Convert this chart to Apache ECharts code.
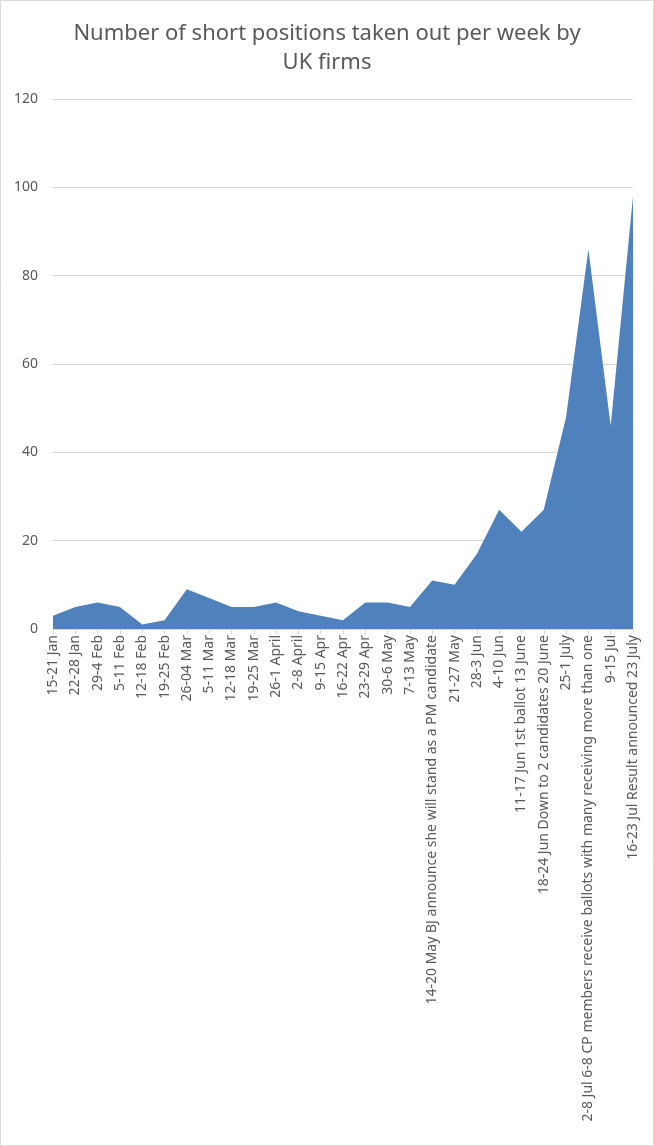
<!DOCTYPE html>
<html>
<head>
	<meta charset="utf-8">
	<title>echarts</title>
	<script type="text/javascript" src="https://cdn.jsdelivr.net/npm/echarts@6/dist/echarts.min.js"></script>
	<style>
		html, body { margin: 0; padding: 0; background: #fff; }
	</style>
</head>
<body>
	<div id="mychar" style="width: 654px;height:1146px;"></div>

	<script type="text/javascript">
		var weeks = [
			'15-21 Jan', '22-28 Jan', '29-4 Feb', '5-11 Feb', '12-18 Feb', '19-25 Feb',
			'26-04 Mar', '5-11 Mar', '12-18 Mar', '19-25 Mar', '26-1 April', '2-8 April',
			'9-15 Apr', '16-22 Apr', '23-29 Apr', '30-6 May', '7-13 May',
			'14-20 May BJ announce she will stand as a PM candidate',
			'21-27 May', '28-3 Jun', '4-10 Jun',
			'11-17 Jun 1st ballot 13 June',
			'18-24 Jun Down to 2 candidates 20 June',
			'25-1 July',
			'2-8 Jul 6-8 CP members receive ballots with many receiving more than one',
			'9-15 Jul',
			'16-23 Jul Result announced 23 July'
		];
		var shorts = [3, 5, 6, 5, 1, 2, 9, 7, 5, 5, 6, 4, 3, 2, 6, 6, 5, 11, 10, 17, 27, 22, 27, 48, 86, 46, 98];
		var yTicks = { min: 0, max: 120, interval: 20 };

		var grey = '#595959';
		var font = '"Noto Sans", "Open Sans", sans-serif';

		var mychar = echarts.init(document.getElementById("mychar"));
		var option = {
			backgroundColor: '#fff',
			animation: false,
			title: {
				text: 'Number of short positions taken out per week by\nUK firms',
				left: 'center',
				top: 14,
				textStyle: {
					fontFamily: font,
					fontSize: 22,
					fontWeight: 'normal',
					color: grey,
					lineHeight: 29
				}
			},
			graphic: [{
				type: 'rect',
				shape: { x: 0.5, y: 0.5, width: 653, height: 1145 },
				style: { fill: 'none', stroke: '#d9d9d9', lineWidth: 1 },
				silent: true
			}],
			grid: {
				left: 53,
				right: 21,
				top: 99,
				bottom: 517
			},
			xAxis: {
				type: 'category',
				data: weeks,
				boundaryGap: false,
				axisLine: { lineStyle: { color: '#d9d9d9' } },
				axisTick: { show: true, length: 5, lineStyle: { color: '#d9d9d9' } },
				axisLabel: {
					interval: 0,
					rotate: 90,
					margin: 6,
					color: grey,
					fontFamily: font,
					fontSize: 14
				}
			},
			yAxis: {
				type: 'value',
				min: yTicks.min,
				max: yTicks.max,
				interval: yTicks.interval,
				axisLine: { show: false },
				axisTick: { show: false },
				splitLine: { lineStyle: { color: '#d9d9d9' } },
				axisLabel: {
					margin: 15,
					color: grey,
					fontFamily: font,
					fontSize: 14
				}
			},
			series: [{
				name: 'Short positions',
				type: 'line',
				data: shorts,
				symbol: 'none',
				lineStyle: { width: 0 },
				areaStyle: { color: '#4f81bd', opacity: 1 }
			}]
		};
		mychar.setOption(option);
	</script>
</body>
</html>
